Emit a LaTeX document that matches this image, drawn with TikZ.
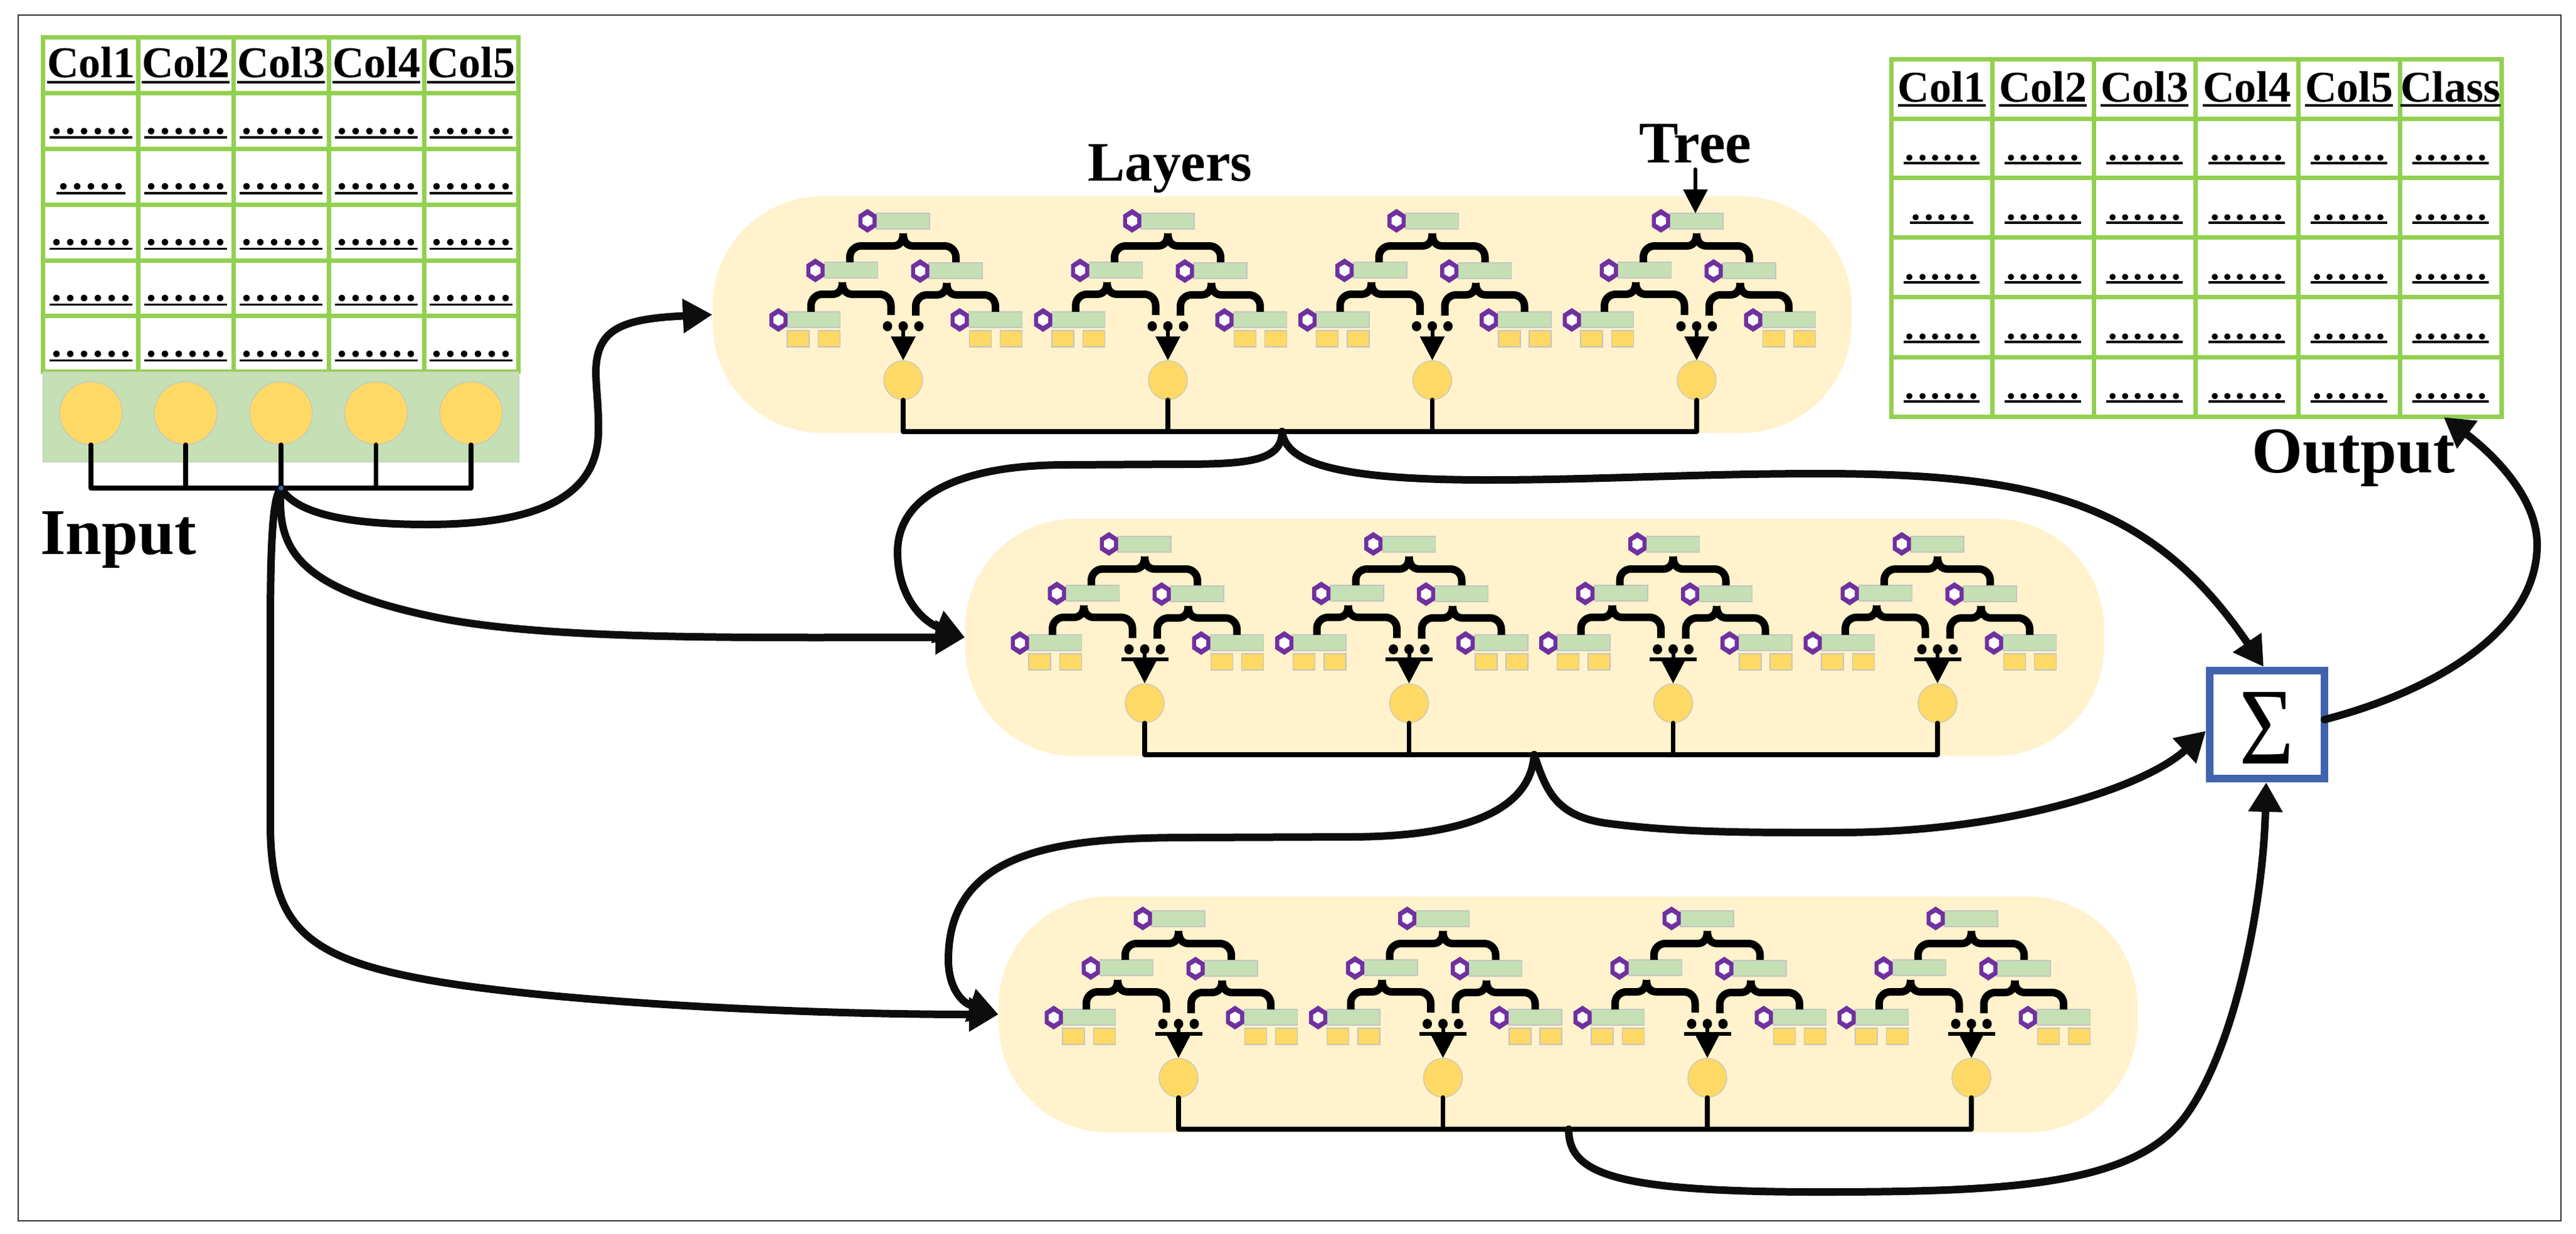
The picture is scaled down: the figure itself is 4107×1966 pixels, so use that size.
\documentclass[tikz,border=0pt]{standalone}
\usepackage{fontspec}
\usepackage{graphicx}
\setmainfont{Liberation Serif}
\usetikzlibrary{arrows.meta,calc}
\definecolor{gridgreen}{HTML}{92D050}
\definecolor{softgreen}{HTML}{C5E0B4}
\definecolor{softyellow}{HTML}{FFD966}
\definecolor{pillcol}{HTML}{FFF2CC}
\definecolor{hexcol}{HTML}{7030A0}
\definecolor{sigblue}{HTML}{3F64AD}
\definecolor{conncol}{HTML}{0D0D0D}
\definecolor{edgegray}{HTML}{C4C4C4}
\newcommand{\ultext}[3]{\setbox0=\hbox{#1}\leavevmode\rlap{\rule[-#2pt]{\wd0}{#3pt}}\box0}
\tikzset{
  gridline/.style={draw=gridgreen,line width=7pt,line cap=rect},
  headL/.style={font=\bfseries\fontsize{70}{84}\selectfont,anchor=base,inner sep=0pt},
  dotsL/.style={font=\fontsize{88}{100}\selectfont,anchor=base,inner sep=0pt},
  dotsR/.style={font=\fontsize{81}{95}\selectfont,anchor=base,inner sep=0pt},
  biglabel/.style={font=\bfseries\fontsize{104}{120}\selectfont,anchor=base west,inner sep=0pt},
  midlabel/.style={font=\bfseries\fontsize{89}{105}\selectfont,anchor=base west,inner sep=0pt},
  treelabel/.style={font=\bfseries\fontsize{94}{110}\selectfont,anchor=base west,inner sep=0pt},
  pillbox/.style={fill=pillcol,draw=none,rectangle,rounded corners=175pt,inner sep=0pt},
  grect/.style={rectangle,fill=softgreen,draw=edgegray,line width=1.2pt,minimum width=85pt,minimum height=25pt,inner sep=0pt},
  ysq/.style={rectangle,fill=softyellow,draw=edgegray,line width=1.2pt,minimum width=35pt,minimum height=26pt,inner sep=0pt},
  ycirc/.style={circle,fill=softyellow,draw=edgegray,line width=1.2pt,inner sep=0pt},
  wire/.style={draw=black,line width=7.5pt,line cap=round,line join=round},
  bracec/.style={draw=black,line width=12pt,line cap=butt},
  conn/.style={draw=conncol,line width=12pt,line cap=round,-{Triangle[width=52pt,length=47pt]}},
  treearrow/.style={draw=black,line width=6pt,-{Triangle[width=38pt,length=38pt]}},
}
\newcommand{\hexa}[2]{%
  \begin{scope}[shift={(#1,#2)}]
    \fill[hexcol] (0,-19) -- (14.5,-9.5) -- (14.5,9.5) -- (0,19) -- (-14.5,9.5) -- (-14.5,-9.5) -- cycle;
    \fill[white] (0,-9.5) -- (8,-4.75) -- (8,4.75) -- (0,9.5) -- (-8,4.75) -- (-8,-4.75) -- cycle;
  \end{scope}}
\newcommand{\bracket}[7]{%
  \draw[bracec] (#4,#5) -- (#4,{#3+18}) .. controls (#4,{#3+8}) and ({#4+8},#3) .. ({#4+18},#3) -- ({#1-16},#3) .. controls ({#1-6},#3) and (#1,{#3-7}) .. (#1,#2);
  \draw[bracec] (#6,#7) -- (#6,{#3+18}) .. controls (#6,{#3+8}) and ({#6-8},#3) .. ({#6-18},#3) -- ({#1+16},#3) .. controls ({#1+6},#3) and (#1,{#3-7}) .. (#1,#2);}
% #1 name, #2 cx, #3 cy, #4 1 = with T-bar above the arrow head
\newcommand{\treeunit}[4]{%
  \begin{scope}[shift={(#2,#3)}]
    \node[ycirc,minimum size=62pt] (#1c) at (0,0) {};
    \node[grect] (#1t) at (-0.5,-253.5) {};
    \node[grect] (#1l) at (-83,-175.5) {};
    \node[grect] (#1r) at (83.5,-174.5) {};
    \node[grect] (#1ll) at (-143,-96.5) {};
    \node[grect] (#1rr) at (147,-96.5) {};
    \node[ysq] (#1a) at (-167.5,-66) {};
    \node[ysq] (#1b) at (-118,-66) {};
    \node[ysq] (#1d) at (123,-66) {};
    \node[ysq] (#1e) at (172,-66) {};
    \hexa{-57}{-254}\hexa{-140}{-175}\hexa{27}{-174}\hexa{-199}{-96}\hexa{90}{-96}
    \bracket{0}{-234}{-214}{-85}{-188}{84}{-188}
    \bracket{-97}{-156}{-137}{-147}{-109}{-19.5}{-104}
    \bracket{69.4}{-155}{-136}{20}{-103}{147}{-109}
    \fill[black] (-25,-86) ellipse [x radius=7.5,y radius=8];
    \fill[black] (0,-86) ellipse [x radius=7.5,y radius=8];
    \fill[black] (25,-86) ellipse [x radius=7.5,y radius=8];
    \coordinate (#1s) at (0,-86);
    \draw[treearrow] (#1s) -- (#1c.north);
    \ifnum#4=1 \draw[black,line width=6pt] (-37.5,-70) -- (37.5,-70);\fi
  \end{scope}}
\begin{document}
\begin{tikzpicture}[x=1pt,y=-1pt]
\useasboundingbox (0,0) rectangle (4107,1966);
\fill[white] (0,0) rectangle (4107,1966);
\draw[draw=black!80,line width=1.5pt] (29,24) rectangle (4083,1946);

% ---------- input table
\foreach \xx in {68,220,372,524,676,826.5} \draw[gridline] (\xx,59) -- (\xx,592);
\foreach \yy in {59,148.7,237.5,326.3,415,503.8,592} \draw[gridline] (68,\yy) -- (826.5,\yy);
\foreach \cl/\xx in {1/145,2/296,3/448,4/600,5/751} {
  \node[headL] (Lh\cl) at (\xx,123.4) {\ultext{Col\cl}{9.5}{4}};
  \foreach \rw/\yy in {1/213,2/301.8,3/390.6,4/479.4,5/568.2}
    \node[dotsL,name=L\rw\cl] at (\xx,\yy) {\ultext{\ifnum\rw\cl=21 .....\else ......\fi}{7.8}{3.5}};
}
\fill[softgreen,draw=edgegray,line width=1pt] (68,592) rectangle (827,736.5);
\foreach \cl/\xx in {1/145,2/296,3/448,4/599.5,5/751}
  \node[ycirc,minimum size=100pt,name=i\cl] at (\xx,658.5) {};
\coordinate (inJ) at (448,778);
\draw[wire] (i1.south) |- (inJ) -| (i5.south);
\draw[wire] (i2.south) -- (i2.south |- inJ);
\draw[wire] (i3.south) -- (inJ);
\draw[wire] (i4.south) -- (i4.south |- inJ);
\node[biglabel] (inputlbl) at (64,883) {Input};

% ---------- output table
\foreach \xx in {3015,3176,3338,3500.5,3664,3826,3988} \draw[gridline] (\xx,94) -- (\xx,664.5);
\foreach \yy in {94,189,283.5,378.5,473.5,569,664.5} \draw[gridline] (3015,\yy) -- (3988,\yy);
\foreach \cl/\xx/\tx in {1/3095.5/Col1,2/3257/Col2,3/3419/Col3,4/3582/Col4,5/3745/Col5,6/3907/Class} {
  \node[headL] (Rh\cl) at (\xx,162) {\ultext{\tx}{7.6}{4}};
  \foreach \rw/\yy in {1/255,2/350,3/445,4/540,5/635}
    \node[dotsR,name=R\rw\cl] at (\xx,\yy) {\ultext{\ifnum\rw\cl=21 .....\else ......\fi}{7}{4}};
}
\node[biglabel] (outputlbl) at (3590,753) {Output};

% ---------- pills
\node[pillbox,minimum width=1816pt,minimum height=377pt] (pillA) at (2044,501.5) {};
\node[pillbox,minimum width=1816pt,minimum height=378pt] (pillB) at (2446.5,1016) {};
\node[pillbox,minimum width=1816pt,minimum height=376pt] (pillC) at (2500,1617) {};

% ---------- trees
\foreach \n/\x in {1/1440,2/1862,3/2283.5,4/2705} { \treeunit{A\n}{\x}{606}{0} }
\foreach \n/\x in {1/1825,2/2246.5,3/2667.5,4/3089} { \treeunit{B\n}{\x}{1121}{1} }
\foreach \n/\x in {1/1879,2/2300.5,3/2722,4/3143} { \treeunit{C\n}{\x}{1718}{1} }
\foreach \p/\y/\jx in {A/688/2044,B/1203/2446,C/1800/2501} {
  \coordinate (\p J) at (\jx,\y);
  \draw[wire] (\p1c.south) |- (\p J) -| (\p4c.south);
  \draw[wire] (\p2c.south) -- (\p2c.south |- \p J);
  \draw[wire] (\p3c.south) -- (\p3c.south |- \p J);
}

\node[midlabel] (layerslbl) at (1734,288) {Layers};
\node[treelabel] (treelbl) at (2613,259) {Tree};
\coordinate (treeS) at (2703,270);
\coordinate (treeE) at (2703,340);
\draw[treearrow,line cap=round] (treeS) -- (treeE);

% ---------- sum box
\node[rectangle,draw=sigblue,fill=white,line width=12pt,minimum width=183pt,minimum height=172pt,inner sep=0pt] (sigma) at (3614.5,1155) {};
\node[inner sep=0pt,font=\fontsize{174}{190}\selectfont] (sigmatxt) at (3614,1161) {\scalebox{0.86}[1]{Σ}};
\coordinate (sigN) at (3609,1063);
\coordinate (sigW) at (3517,1165);
\coordinate (sigS) at (3613,1247);
\coordinate (sigE) at (3706,1147);
\coordinate (outT) at (3896,665);

% ---------- connectors
\draw[conn] (inJ) .. controls (475,825) and (580,836) .. (680,836)
   .. controls (860,836) and (952,790) .. (954,690)
   .. controls (955,650) and (950,620) .. (950,590)
   .. controls (952,525) and (990,508) .. (pillA.west);
\draw[conn] (inJ) .. controls (440,880) and (480,940) .. (700,985)
   .. controls (880,1021) and (1200,1016) .. (pillB.west);
\draw[conn] (inJ) .. controls (436,790) and (431,850) .. (431,1000)
   -- (431,1320) .. controls (433,1480) and (490,1530) .. (700,1565)
   .. controls (880,1595) and (1250,1617) .. (pillC.west);
\draw[conn] (AJ) .. controls (2044,735) and (1990,740) .. (1880,740)
   -- (1700,741) .. controls (1530,741) and (1431,790) .. (1431,880)
   .. controls (1431,950) and (1470,990) .. (pillB.west);
\draw[conn] (AJ) .. controls (2050,735) and (2120,765) .. (2370,765)
   .. controls (2550,765) and (2700,755) .. (2900,755)
   .. controls (3250,755) and (3430,800) .. (sigN);
\draw[conn] (BJ) .. controls (2440,1290) and (2340,1334) .. (2150,1334)
   -- (1900,1335) .. controls (1700,1335) and (1512,1350) .. (1512,1530)
   .. controls (1512,1570) and (1530,1597) .. (pillC.west);
\draw[conn] (BJ) .. controls (2465,1260) and (2480,1300) .. (2560,1312)
   .. controls (2680,1328) and (2800,1327) .. (2931,1327)
   .. controls (3200,1327) and (3420,1255) .. (sigW);
\draw[conn] (CJ) .. controls (2501,1870) and (2570,1900) .. (2900,1900)
   .. controls (3200,1900) and (3400,1890) .. (3482,1782)
   .. controls (3560,1680) and (3608,1450) .. (sigS);
\draw[conn] (sigE) .. controls (3850,1110) and (4045,1020) .. (4045,868)
   .. controls (4045,780) and (3950,705) .. (outT);
\node[circle,fill=sigblue,draw=black,line width=0.8pt,minimum size=9pt,inner sep=0pt] (dotJ) at (inJ) {};
\end{tikzpicture}
\end{document}
